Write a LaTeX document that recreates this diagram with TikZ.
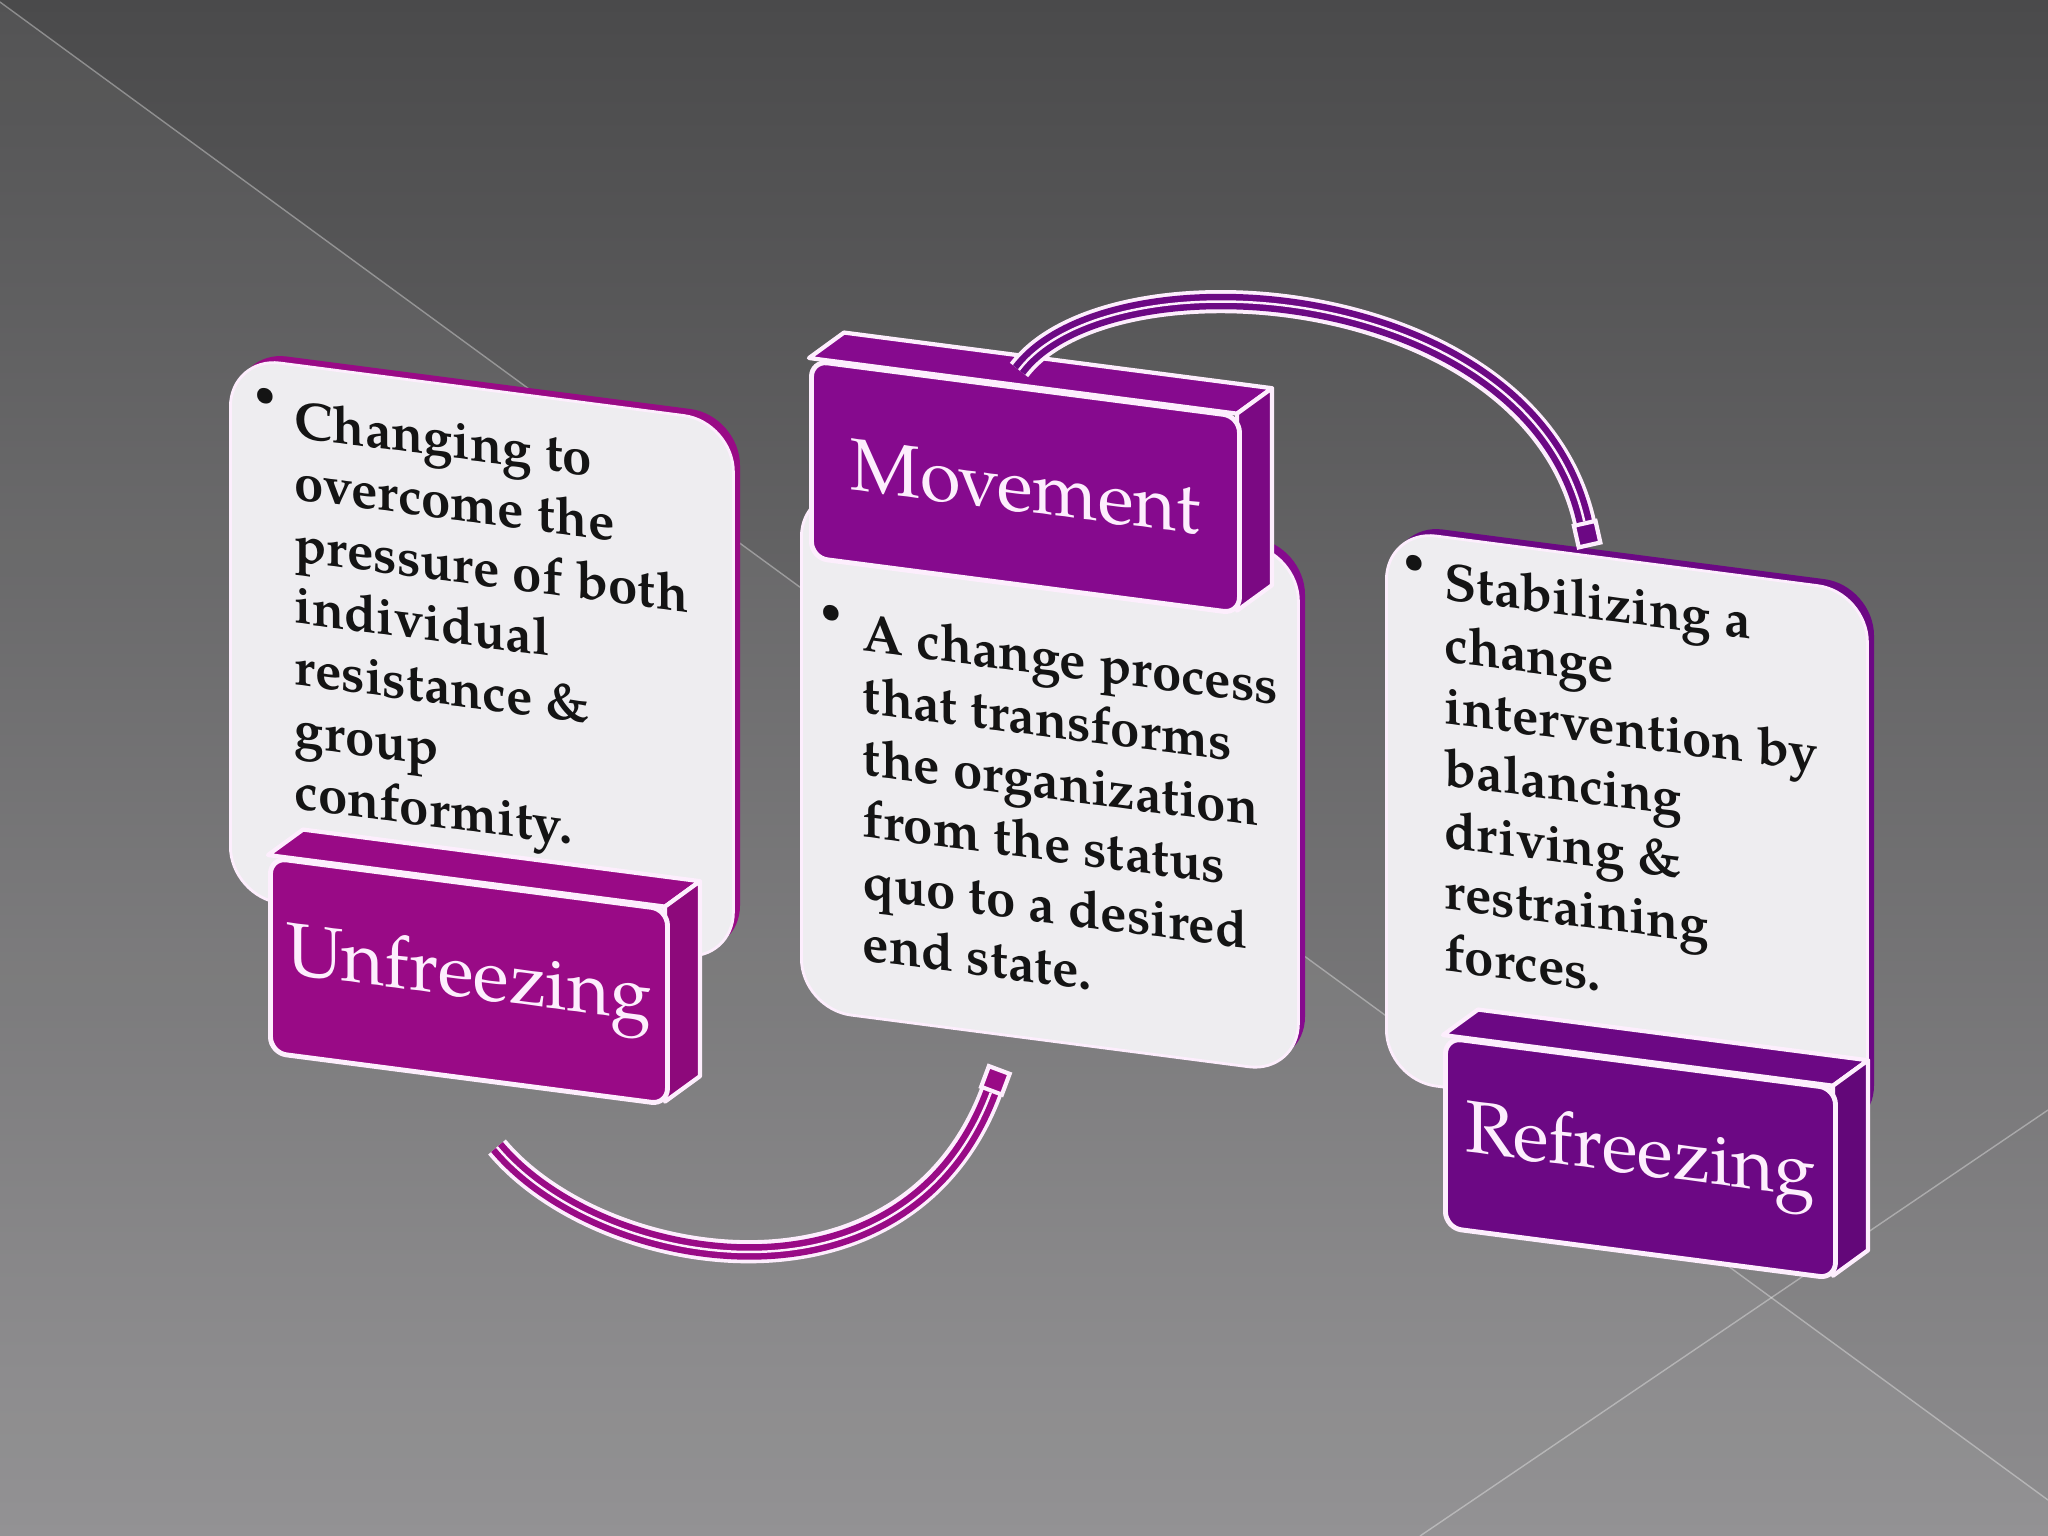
\documentclass[tikz,border=0pt]{standalone}
\usepackage{fontspec}
\setmainfont{TeX Gyre Pagella}
\usetikzlibrary{arrows.meta}
\definecolor{bgTop}{HTML}{4A4A4B}
\definecolor{bgBot}{HTML}{8E8D8F}
\definecolor{cardGray}{HTML}{EEEDF0}
\definecolor{rimPink}{HTML}{FDEEFD}
\definecolor{plumA}{HTML}{990A86}
\definecolor{plumB}{HTML}{860A8E}
\definecolor{plumC}{HTML}{6C0884}
\tikzset{
  cardface/.style={draw=rimPink, line width=0.8pt, fill=cardGray, rounded corners=0.5cm,
    anchor=north west, inner sep=0pt, transform shape},
  boxedge/.style={draw=rimPink, line width=1.2pt, line join=round},
  boxface/.style={draw=rimPink, line width=1.4pt, rounded corners=0.16cm, anchor=north west,
    inner sep=0pt, text=rimPink, font=\fontsize{21}{24}\selectfont, transform shape},
  bodytext/.style={anchor=north west, inner sep=0pt, align=left, text=black!92,
    font=\bfseries\fontsize{15}{17.6}\selectfont, transform shape},
  dot/.style={inner sep=0pt, text=black!92, font=\fontsize{11}{12}\selectfont, transform shape},
  ribbon/.style={draw=rimPink, line width=6.6pt,
    -{Square[length=7.5pt, width=7.5pt, fill=#1, color=rimPink, line width=1.2pt]},
    postaction={draw=#1, line width=4.4pt, shorten >=7.5pt, -},
    postaction={draw=rimPink, line width=0.7pt, shorten >=7.5pt, -}},
}
% light card with a purple rim: name, colour, width, height
\newcommand{\textcard}[4]{%
  \fill[#2, rounded corners=0.5cm] (8,-6) rectangle ++(#3,#4);
  \node[cardface, minimum width=#3*0.01cm, minimum height=#4*0.01cm] (#1) at (0,0) {};
}
% purple block with top and side faces: name, colour, width, height, label
\newcommand{\stagebox}[5]{%
  \filldraw[boxedge, fill=#2] (0,0) -- (#3,0) -- ++(35,-30) -- (35,-30) -- cycle;
  \filldraw[boxedge, fill=#2!92!black] (#3,0) -- ++(35,-30) -- ++(0,#4) -- (#3,#4) -- cycle;
  \node[boxface, fill=#2, minimum width=#3*0.01cm, minimum height=#4*0.01cm] (#1) at (0,0) {#5};
}

\begin{document}
\begin{tikzpicture}[x=0.01cm, y=-0.01cm]
  \useasboundingbox (0,0) rectangle (2048,1536);

  % background
  \shade[top color=bgTop, bottom color=bgBot] (0,0) rectangle (2048,1536);
  \fill[white, opacity=0.05] (0,2) -- (2048,1500) -- (2048,1536) -- (0,1536) -- cycle;
  \draw[white, opacity=0.35, line width=0.4pt] (0,2) -- (2048,1500);
  \draw[white, opacity=0.35, line width=0.4pt] (2048,1110) -- (1420,1536);

  % unfreezing
  \begin{scope}[shift={(229,355)}, yslant=-0.13]
    \textcard{u-card}{plumA}{503}{540}
    \node[dot] (u-dot) at (36,38) {\textbullet};
    \node[bodytext] (u-text) at (65,35) {Changing to\\overcome the\\pressure of both\\individual\\resistance \&\\group\\conformity.};
  \end{scope}
  \begin{scope}[shift={(268,855)}, yslant=-0.13]
    \stagebox{u-box}{plumA}{397}{195}{Unfreezing}
  \end{scope}

  % movement
  \begin{scope}[shift={(800,485)}, yslant=-0.13]
    \textcard{m-card}{plumB}{497}{522}
    \node[dot] (m-dot) at (31,125) {\textbullet};
    \node[bodytext] (m-text) at (62,119) {A change process\\that transforms\\the organization\\from the status\\quo to a desired\\end state.};
  \end{scope}
  \begin{scope}[shift={(809,358)}, yslant=-0.13]
    \stagebox{m-box}{plumB}{428}{197}{Movement}
  \end{scope}

  % refreezing
  \begin{scope}[shift={(1385,528)}, yslant=-0.13]
    \textcard{r-card}{plumC}{481}{550}
    \node[dot] (r-dot) at (29,32) {\textbullet};
    \node[bodytext] (r-text) at (59,25) {Stabilizing a\\change\\intervention by\\balancing\\driving \&\\restraining\\forces.};
  \end{scope}
  \begin{scope}[shift={(1443,1035)}, yslant=-0.13]
    \stagebox{r-box}{plumC}{390}{190}{Refreezing}
  \end{scope}

  % arrows
  \coordinate (a1-tail) at (497,1147);
  \coordinate (a1-tip) at (1000,1068);
  \coordinate (a2-tail) at (1019,370);
  \coordinate (a2-tip) at (1590,547);
  \draw[ribbon=plumA] (a1-tail) .. controls (600,1270) and (905,1322) .. (a1-tip);
  \draw[ribbon=plumC] (a2-tail) .. controls (1110,250) and (1530,280) .. (a2-tip);
\end{tikzpicture}
\end{document}
